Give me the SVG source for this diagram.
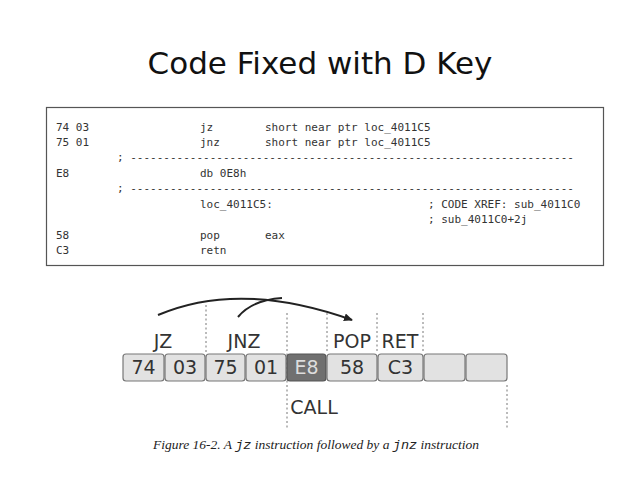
<svg xmlns="http://www.w3.org/2000/svg" width="638" height="478" viewBox="0 0 638 478">
<defs>
<style>
.code{font-family:"DejaVu Sans Mono","Liberation Mono",monospace;font-size:11px;fill:#333}
.b{fill:#e2e2e2;stroke:#777;stroke-width:1.2}
.bt{font-family:"DejaVu Sans","Liberation Sans",sans-serif;font-size:19px;fill:#333;text-anchor:middle}
.lb{font-family:"DejaVu Sans","Liberation Sans",sans-serif;font-size:19px;fill:#333;text-anchor:middle}
.d{stroke:#777;stroke-width:1;stroke-dasharray:2,2.5;fill:none}
</style>
<marker id="ah" markerWidth="10" markerHeight="8" refX="8" refY="4" orient="auto" markerUnits="userSpaceOnUse"><path d="M0,0 L9,4 L0,8 Z" fill="#222"/></marker>
</defs>
<rect width="638" height="478" fill="#fff"/>
<text x="320" y="74" font-family="'DejaVu Sans','Liberation Sans',sans-serif" font-size="31" text-anchor="middle" fill="#111">Code Fixed with D Key</text>
<g id="codebox">
<rect x="46.5" y="107.5" width="557" height="158" fill="#fff" stroke="#555" stroke-width="1.2"/>
<text class="code" x="56" y="131">74 03</text><text class="code" x="200" y="131">jz</text><text class="code" x="265" y="131">short near ptr loc_4011C5</text>
<text class="code" x="56" y="146">75 01</text><text class="code" x="200" y="146">jnz</text><text class="code" x="265" y="146">short near ptr loc_4011C5</text>
<text class="code" x="117" y="161">; -------------------------------------------------------------------</text>
<text class="code" x="56" y="177">E8</text><text class="code" x="200" y="177">db 0E8h</text>
<text class="code" x="117" y="192">; -------------------------------------------------------------------</text>
<text class="code" x="200" y="208">loc_4011C5:</text><text class="code" x="428" y="208">; CODE XREF: sub_4011C0</text>
<text class="code" x="428" y="223">; sub_4011C0+2j</text>
<text class="code" x="56" y="239">58</text><text class="code" x="200" y="239">pop</text><text class="code" x="265" y="239">eax</text>
<text class="code" x="56" y="254">C3</text><text class="code" x="200" y="254">retn</text>
</g>
<g id="connectors">
<path d="M158,315 Q240,280 352,320" fill="none" stroke="#222" stroke-width="2" marker-end="url(#ah)"/>
<path d="M238,317 Q252,300 282,298" fill="none" stroke="#222" stroke-width="2"/>
<line class="d" x1="206" y1="305" x2="206" y2="352"/>
<line class="d" x1="287" y1="313" x2="287" y2="428"/>
<line class="d" x1="327" y1="313" x2="327" y2="352"/>
<line class="d" x1="377" y1="313" x2="377" y2="352"/>
<line class="d" x1="423" y1="313" x2="423" y2="352"/>
<line class="d" x1="507" y1="385" x2="507" y2="428"/>
</g>
<g id="labels">
<text class="lb" x="163" y="348">JZ</text>
<text class="lb" x="244" y="348">JNZ</text>
<text class="lb" x="352" y="348">POP</text>
<text class="lb" x="400" y="348">RET</text>
<text class="lb" x="314" y="414">CALL</text>
</g>
<g id="bytes">
<rect class="b" x="123" y="354" width="41" height="27" rx="3"/><text class="bt" x="143.5" y="374">74</text>
<rect class="b" x="165" y="354" width="40" height="27" rx="3"/><text class="bt" x="185" y="374">03</text>
<rect class="b" x="206" y="354" width="39" height="27" rx="3"/><text class="bt" x="225.5" y="374">75</text>
<rect class="b" x="246" y="354" width="40" height="27" rx="3"/><text class="bt" x="266" y="374">01</text>
<rect x="287" y="354" width="39" height="27" rx="3" fill="#707070" stroke="#555" stroke-width="1.2"/><text class="bt" x="306.5" y="374" style="fill:#ddd">E8</text>
<rect class="b" x="327" y="354" width="50" height="27" rx="3"/><text class="bt" x="352" y="374">58</text>
<rect class="b" x="378" y="354" width="45" height="27" rx="3"/><text class="bt" x="400.5" y="374">C3</text>
<rect class="b" x="424" y="354" width="41" height="27" rx="3"/>
<rect class="b" x="466" y="354" width="41" height="27" rx="3"/>
</g>
<text x="316" y="449" font-family="'Liberation Serif',serif" font-style="italic" font-size="13.5" text-anchor="middle" fill="#222">Figure 16-2. A <tspan font-family="'Liberation Mono',monospace">jz</tspan> instruction followed by a <tspan font-family="'Liberation Mono',monospace">jnz</tspan> instruction</text>
</svg>
